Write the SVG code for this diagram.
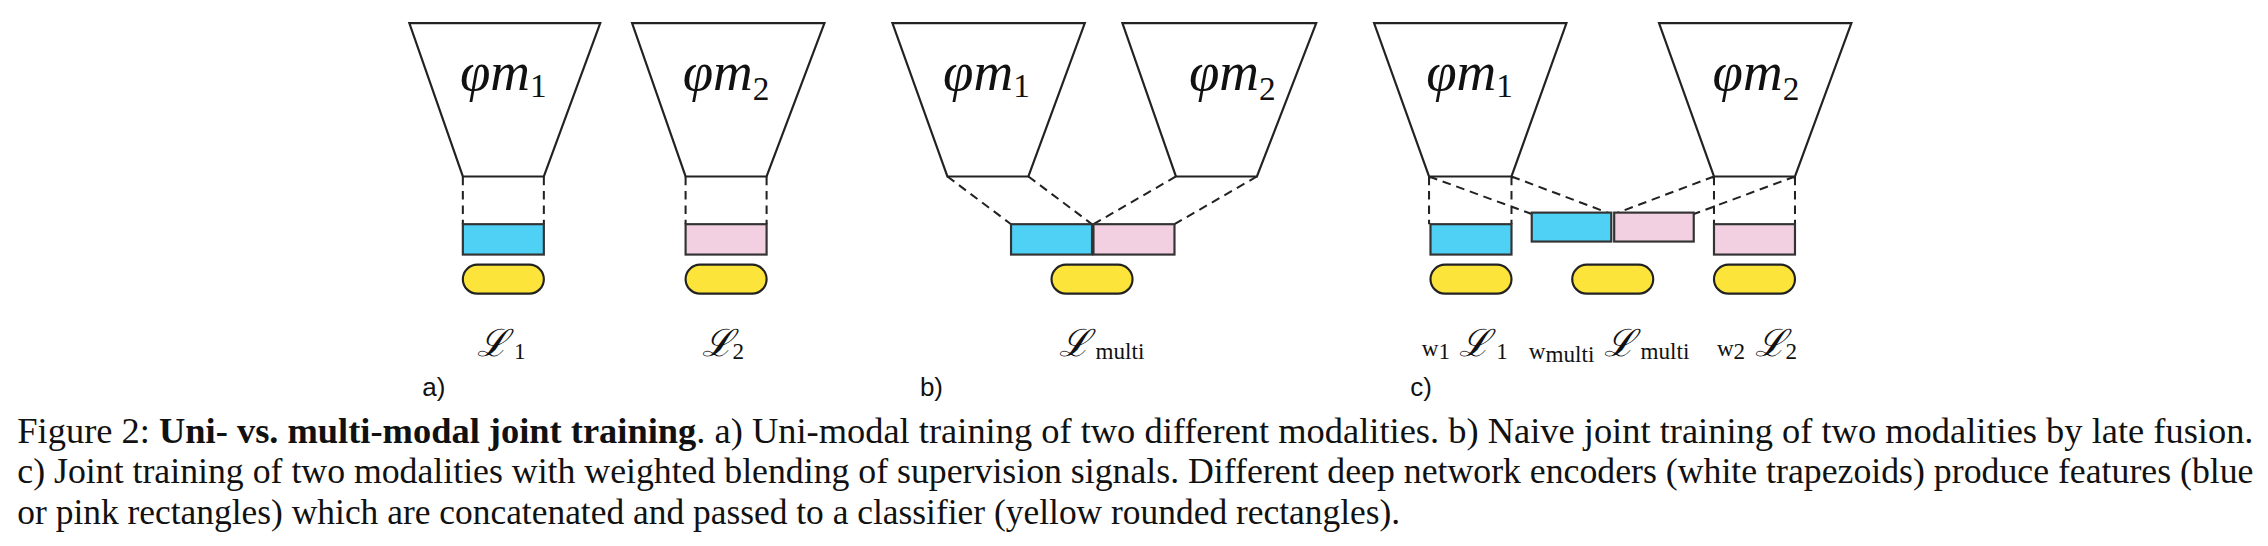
<svg xmlns="http://www.w3.org/2000/svg" width="2268" height="546" viewBox="0 0 2268 546">
<style>
.tr{fill:#fff;stroke:#222;stroke-width:1.5}
.d{stroke:#222;stroke-width:1.4;stroke-dasharray:6,4;fill:none}
.b{fill:#4fd0f5;stroke:#333;stroke-width:1.5}
.p{fill:#f2d0e2;stroke:#333;stroke-width:1.5}
.y{fill:#fde43a;stroke:#222;stroke-width:1.5}
.phi{font-family:"Liberation Serif",serif;font-style:italic;font-size:38px;fill:#111}
.sub{font-style:normal;font-size:23px}
.L{font-family:"Liberation Serif",serif;font-style:italic;font-size:26px;fill:#111}
.s{font-style:normal;font-size:16px}
.cap{font-family:"Liberation Serif",serif;font-size:24.5px;fill:#111}
.lab{font-family:"Liberation Sans",sans-serif;font-size:18px;fill:#111}
</style>
<g transform="scale(1.4464)">
<g id="connectors">
<path class="d" d="M320 122V155M376 122V155M474 122V155M530 122V155"/>
<path class="d" d="M655 122L699 155M711 122L755 155M813 122L756 155M869 122L812 155"/>
<path class="d" d="M988 122V155M1045 122V155M1185 122V155M1241 122V155M988 122L1059 148M1045 122L1114 148M1185 122L1116 148M1241 122L1171 148"/>
</g>
<g id="a1"><polygon class="tr" points="283,16 415,16 376,122 320,122"/><text class="phi" x="318" y="62">φm<tspan class="sub" dy="5">1</tspan></text></g>
<g id="a2"><polygon class="tr" points="437,16 570,16 530,122 474,122"/><text class="phi" x="472" y="62">φm<tspan class="sub" dy="7">2</tspan></text></g>
<g id="b1"><polygon class="tr" points="617,16 750,16 711,122 655,122"/><text class="phi" x="652" y="62">φm<tspan class="sub" dy="5">1</tspan></text></g>
<g id="b2"><polygon class="tr" points="776,16 910,16 869,122 813,122"/><text class="phi" x="822" y="62">φm<tspan class="sub" dy="7">2</tspan></text></g>
<g id="c1"><polygon class="tr" points="950,16 1083,16 1045,122 988,122"/><text class="phi" x="986" y="62">φm<tspan class="sub" dy="5">1</tspan></text></g>
<g id="c2"><polygon class="tr" points="1147,16 1280,16 1241,122 1185,122"/><text class="phi" x="1184" y="62">φm<tspan class="sub" dy="7">2</tspan></text></g>
<g id="feats">
<rect class="b" x="320" y="155" width="56" height="21"/>
<rect class="p" x="474" y="155" width="56" height="21"/>
<rect class="b" x="699" y="155" width="56" height="21"/>
<rect class="p" x="756" y="155" width="56" height="21"/>
<rect class="b" x="989" y="155" width="56" height="21"/>
<rect class="b" x="1059" y="147" width="55" height="20"/>
<rect class="p" x="1116" y="147" width="55" height="20"/>
<rect class="p" x="1185" y="155" width="56" height="21"/>
</g>
<g id="cls">
<rect class="y" x="320" y="183" width="56" height="20" rx="10"/>
<rect class="y" x="474" y="183" width="56" height="20" rx="10"/>
<rect class="y" x="727" y="183" width="56" height="20" rx="10"/>
<rect class="y" x="989" y="183" width="56" height="20" rx="10"/>
<rect class="y" x="1087" y="183" width="56" height="20" rx="10"/>
<rect class="y" x="1185" y="183" width="56" height="20" rx="10"/>
</g>
<g id="labels">
<text class="L" x="330" y="246">ℒ<tspan class="s" dy="2"> 1</tspan></text>
<text class="L" x="485" y="246">ℒ<tspan class="s" dy="2">2</tspan></text>
<text class="L" x="732" y="246">ℒ<tspan class="s" dy="2"> multi</tspan></text>
<text class="L" x="983" y="246"><tspan class="s">w</tspan><tspan class="s" font-size="11" dy="2">1</tspan><tspan dy="-2"> ℒ</tspan><tspan class="s" dy="2"> 1</tspan></text>
<text class="L" x="1057" y="246"><tspan class="s" dy="2">w</tspan><tspan class="s" font-size="12" dy="2">multi</tspan><tspan dy="-4"> ℒ</tspan><tspan class="s" dy="2"> multi</tspan></text>
<text class="L" x="1187" y="246"><tspan class="s">w</tspan><tspan class="s" font-size="11" dy="2">2</tspan><tspan dy="-2"> ℒ</tspan><tspan class="s" dy="2">2</tspan></text>
<text class="lab" x="292" y="274">a)</text>
<text class="lab" x="636" y="274">b)</text>
<text class="lab" x="975" y="274">c)</text>
</g>
<g id="caption">
<text class="cap" x="12" y="306" textLength="1546" lengthAdjust="spacingAndGlyphs">Figure 2: <tspan font-weight="bold">Uni- vs. multi-modal joint training</tspan>. a) Uni-modal training of two different modalities. b) Naive joint training of two modalities by late fusion.</text>
<text class="cap" x="12" y="334" textLength="1546" lengthAdjust="spacingAndGlyphs">c) Joint training of two modalities with weighted blending of supervision signals. Different deep network encoders (white trapezoids) produce features (blue</text>
<text class="cap" x="12" y="362">or pink rectangles) which are concatenated and passed to a classifier (yellow rounded rectangles).</text>
</g>
</g>
</svg>
